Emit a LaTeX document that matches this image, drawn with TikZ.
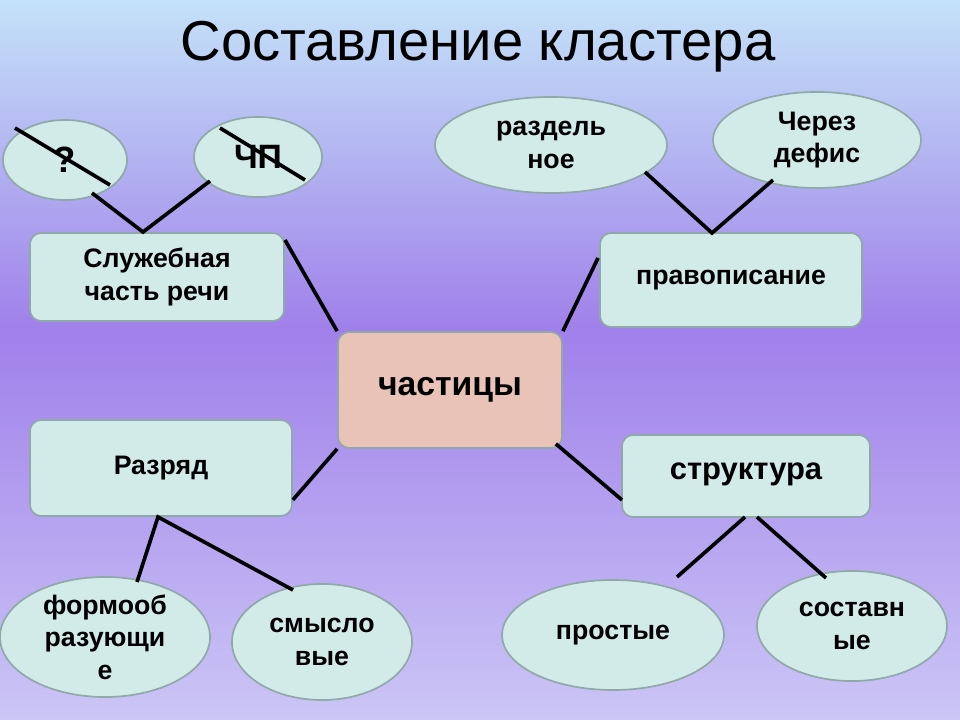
\documentclass[tikz,border=0pt]{standalone}
\usepackage{fontspec}
\setmainfont{Liberation Sans}
\usetikzlibrary{shapes.geometric}
\definecolor{boxfill}{HTML}{D3EBE8}
\definecolor{boxline}{HTML}{8FA9A8}
\definecolor{corefill}{HTML}{E9C2B8}
\definecolor{skytop}{HTML}{C4E2F8}
\definecolor{skymid}{HTML}{A080EA}
\definecolor{skybot}{HTML}{CCC6F6}
\tikzset{
  pill/.style={draw=boxline, line width=1.2pt, fill=boxfill, rounded corners=8pt,
    align=center, font=\fontsize{19}{23}\selectfont\bfseries},
  oval/.style={ellipse, draw=boxline, line width=1.2pt, fill=boxfill,
    align=center, inner sep=0pt, font=\fontsize{19}{23}\selectfont\bfseries},
  link/.style={line width=2.6pt, black}
}
\begin{document}
\begin{tikzpicture}[x=0.025cm,y=-0.025cm]
  % Фон
  \shade[top color=skytop, bottom color=skymid] (0,0) rectangle (960,330);
  \shade[top color=skymid, bottom color=skybot] (0,330) rectangle (960,720);
  \useasboundingbox (0,0) rectangle (960,720);

  % Заголовок
  \node (title) at (478,47) {\fontsize{40}{46}\selectfont Составление кластера};

  % Центр
  \node[pill, fill=corefill, minimum width=5.6cm, minimum height=2.9cm] (core) at (450,390)
    {\fontsize{24}{28}\selectfont\bfseries частицы};

  % Прямоугольники
  \node[pill, minimum width=6.35cm, minimum height=2.2cm] (sluzh) at (157,277) {Служебная\\часть речи};
  \node[pill, minimum width=6.55cm, minimum height=2.35cm] (pravo) at (731,280) {правописание};
  \node[pill, minimum width=6.55cm, minimum height=2.4cm] (razr) at (161,468) {Разряд};
  \node[pill, minimum width=6.2cm, minimum height=2.05cm, text height=0.9cm, text depth=0.7cm] (strukt) at (746,476)
    {\fontsize{22}{26}\selectfont\bfseries структура};

  % Овалы
  \node[oval, minimum width=3.1cm, minimum height=2cm] (vopr) at (65,160) {\fontsize{26}{30}\selectfont ?};
  \node[oval, minimum width=3.2cm, minimum height=2cm] (chp) at (258,157) {\fontsize{24}{28}\selectfont ЧП};
  \node[oval, minimum width=5.8cm, minimum height=2.4cm] (razd) at (551,145) {раздель\\ное};
  \node[oval, minimum width=5.2cm, minimum height=2.4cm] (defis) at (817,140) {Через\\дефис};
  \node[oval, minimum width=5.25cm, minimum height=3cm] (formo) at (105,637) {формооб\\разующи\\е};
  \node[oval, minimum width=4.5cm, minimum height=2.9cm] (smysl) at (322,642) {смысло\\вые};
  \node[oval, minimum width=5.55cm, minimum height=2.75cm] (prost) at (613,635) {простые};
  \node[oval, minimum width=4.75cm, minimum height=2.75cm] (sost) at (852,626) {составн\\ые};

  % Зачёркивания
  \draw[link] (15,128) -- (110,185);
  \draw[link] (220,128) -- (305,180);

  % Узлы ветвей
  \coordinate (j1) at (143,232);
  \coordinate (j2) at (712,233);
  \coordinate (j3) at (158,517);
  \coordinate (j4) at (751,517);

  % Связи
  \draw[link] (92,193) -- (j1) -- (210,181);
  \draw[link] (645,172) -- (j2) -- (773,180);
  \draw[link] (285,240) -- (core.north west);
  \draw[link] (core.north east) -- (598,258);
  \draw[link] (razr.south east) ++(0,-17) -- (core.south west);
  \draw[link] (core.south east) ++(-7,-5) -- (622,500);
  \draw[link] (137,582) -- (j3) -- (293,590);
  \draw[link] (677,577) -- (745,517);
  \draw[link] (757,517) -- (826,578);
\end{tikzpicture}
\end{document}
